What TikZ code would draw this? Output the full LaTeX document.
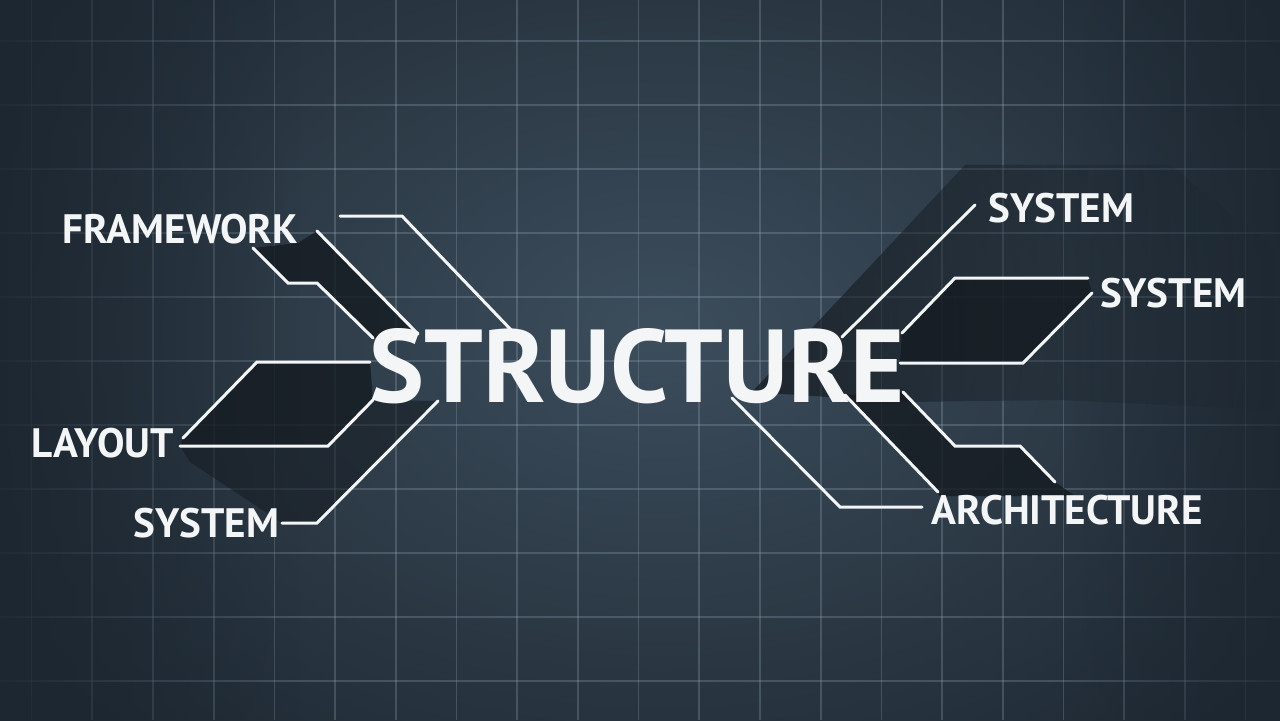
\documentclass[tikz,border=0pt]{standalone}
\usepackage{fontspec}
\setmainfont{PT Sans}
\usetikzlibrary{fadings}

\definecolor{bgcore}{HTML}{3C4D5C}
\definecolor{bgedge}{HTML}{1D2731}
\definecolor{gridc}{HTML}{9AAEBE}
\definecolor{shadowc}{HTML}{151B21}
\definecolor{wirec}{HTML}{F3F5F6}

\tikzset{
  wire/.style={draw=wirec, line width=0.85pt, line cap=round, line join=miter},
  darkband/.style={fill=shadowc, fill opacity=0.8},
  lbl/.style={text=wirec, inner sep=0pt, anchor=base west, font=\bfseries\fontsize{11.7}{12}\selectfont},
  bigword/.style={lbl, font=\bfseries\fontsize{29.5}{30}\selectfont}
}

\begin{document}
\begin{tikzpicture}[x=0.1mm,y=-0.1mm]
\useasboundingbox (0,0) rectangle (1280,720);

% background and grid
\shade[inner color=bgcore, outer color=bgedge] (-180,-240) rectangle (1500,900);
\foreach \k in {-2,...,18}
  \draw[gridc, opacity=0.27, line width=0.5pt] ({153+60.7*\k},0) -- ++(0,720);
\foreach \k in {0,...,10}
  \draw[gridc, opacity=0.27, line width=0.5pt] (0,{41+64*\k}) -- ++(1280,0);
\fill[bgedge, path fading=east, opacity=0.9] (0,0) rectangle (300,720);
\fill[bgedge, path fading=west, opacity=0.8] (1060,0) rectangle (1280,720);

% shadows
\fill[darkband] (253,248) -- (298,243) -- (317,231) -- (418,334) -- (373,338) -- (317,283) -- (288,283) -- cycle;
\fill[darkband] (183,438) -- (257,362) -- (370,362) -- (373,400) -- (328,446) -- (180,446) -- cycle;
\fill[darkband, fill opacity=0.55] (180,446) -- (328,446) -- (373,400) -- (438,401) -- (317,523) -- (282,523) -- (190,462) -- cycle;
\fill[shadowc, path fading=east, opacity=0.75] (965,165) -- (1170,165) -- (1275,250) -- (1275,410) -- (1060,400) -- (905,402) -- (752,392) -- cycle;
\fill[darkband] (955,278) -- (1088,278) -- (1092,293) -- (1023,363) -- (900,363) -- (902,333) -- cycle;
\fill[darkband] (845,395) -- (903,392) -- (955,446) -- (1020,446) -- (1055,482) -- (1075,496) -- (940,496) -- cycle;

% left wires
\draw[wire] (340,216) -- (402,216) -- (515,334);
\draw[wire] (317,231) -- (418,334);
\draw[wire] (253,248) -- (288,283) -- (317,283) -- (373,338);
\draw[wire] (183,438) -- (257,362) -- (370,362);
\draw[wire] (180,446) -- (328,446) -- (373,400);
\draw[wire] (282,523) -- (317,523) -- (438,401);

% right wires
\draw[wire] (975,205) -- (842,337);
\draw[wire] (1088,278) -- (955,278) -- (902,333);
\draw[wire] (1092,293) -- (1023,363) -- (900,363);
\draw[wire] (732,398) -- (840,507) -- (922,507);
\draw[wire] (845,395) -- (938,492);
\draw[wire] (903,392) -- (955,446) -- (1020,446) -- (1055,482);

% labels
\node[bigword] (struct) at (369,402) {STRUCTURE};
\node[lbl] (fw) at (62,243) {FRAMEWORK};
\node[lbl] (lay) at (31,457) {LAYOUT};
\node[lbl] (sysl) at (133,537) {SYSTEM};
\node[lbl] (syst) at (988,222) {SYSTEM};
\node[lbl] (sysr) at (1100,307) {SYSTEM};
\node[lbl] (arch) at (931,524) {ARCHITECTURE};
\end{tikzpicture}
\end{document}
